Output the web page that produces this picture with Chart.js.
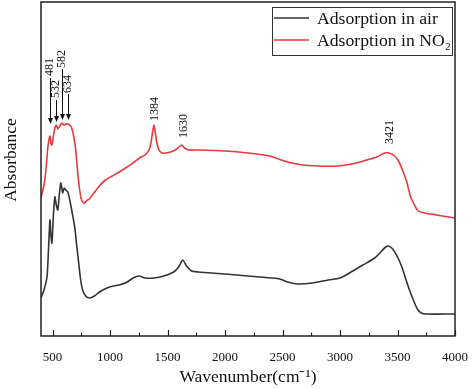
<!DOCTYPE html>
<html>
<head>
<meta charset="utf-8">
<script src="https://cdn.jsdelivr.net/npm/chart.js@4/dist/chart.umd.min.js"></script>
<style>
html,body{margin:0;padding:0;background:#fff;}
#wrap{width:474px;height:389px;position:relative;}
</style>
</head>
<body>
<div id="wrap"><canvas id="c" width="474" height="389"></canvas></div>
<script>
// ---- data ----
const airWavenumber = [400,426,452,465,478,486,495,508,521,533,546,559,572,581,589,602,615,633,650,667,693,710,727,745,762,788,822,865,908,994,1080,1149,1201,1253,1304,1382,1468,1554,1597,1632,1666,1709,1769,2002,2200,2407,2476,2544,2631,2760,2897,3001,3096,3199,3302,3354,3397,3423,3458,3500,3535,3569,3604,3638,3673,3707,3750,4000];
const airAbsorbance = [38,46,59,86,116,101,93,121,139,131,126,141,153,148,143,148,146,144,136,126,109,91,74,56,46,40,38,40,44,49,51,54,58,60,58,58,60,64,69,76,70,65,64,62,60,58,57,54,52,53,56,58,64,71,78,84,89,90,87,79,70,58,46,36,27,23,22,22];
const no2Wavenumber = [400,426,443,460,478,486,495,508,521,533,546,564,581,598,615,633,650,667,684,702,719,736,753,770,788,805,822,839,874,908,960,1020,1080,1149,1210,1270,1304,1339,1356,1373,1382,1390,1408,1425,1451,1485,1528,1580,1623,1649,1683,1769,2002,2200,2389,2441,2544,2674,2803,2975,3104,3233,3320,3388,3423,3466,3509,3543,3578,3612,3647,3681,3733,3836,4000];
const no2Absorbance = [138,151,166,189,200,193,191,200,208,211,207,210,213,211,212,212,211,208,200,186,164,146,136,133,134,136,137,140,145,150,156,160,164,169,174,179,181,186,193,206,211,206,193,186,183,183,184,187,191,188,186,186,185,183,180,178,174,171,170,170,172,176,179,183,183,181,175,166,155,140,131,125,123,121,118];
const seriesNames = ["Adsorption in air", "Adsorption in NO\u2082"];
const xTickValues = [500,1000,1500,2000,2500,3000,3500,4000];
const xMinorTickValues = [750,1250,1750,2250,2750,3250,3750];
// peak annotations: wavenumber, label centre, arrow top, arrow tip (absorbance units)
const arrowPeaks = [481,532,582,634];
const arrowLabelAt = [269,247,277,252];
const arrowTopAt = [258,236,267,242];
const arrowTipAt = [212,214,216,216];
const textPeaks = [1384,1630,3421];
const textLabelAt = [227,210,204];

const SERIF = '"Liberation Serif","Times New Roman",serif';
const AIR_COLOR = '#333333';
const NO2_COLOR = '#e8393c';

function pts(xs, ys){ return xs.map((x,i)=>({x:x,y:ys[i]})); }

const overlay = {
  id:'overlay',
  afterDraw(chart){
    const ctx = chart.ctx, a = chart.chartArea;
    const xs = chart.scales.x, ys = chart.scales.y;
    ctx.save();
    // frame
    ctx.strokeStyle = '#222'; ctx.lineWidth = 1.5;
    ctx.strokeRect(a.left, a.top, a.right-a.left, a.bottom-a.top);
    // inward ticks
    ctx.lineWidth = 1.2;
    ctx.beginPath();
    xTickValues.forEach(v=>{ const p = Math.round(xs.getPixelForValue(v))+0.5; ctx.moveTo(p,a.bottom); ctx.lineTo(p,a.bottom-6); });
    xMinorTickValues.forEach(v=>{ const p = Math.round(xs.getPixelForValue(v))+0.5; ctx.moveTo(p,a.bottom); ctx.lineTo(p,a.bottom-3.5); });
    ctx.stroke();
    // y title
    ctx.fillStyle = '#111';
    ctx.font = '17.5px '+SERIF;
    ctx.textAlign = 'center'; ctx.textBaseline = 'middle';
    ctx.save(); ctx.translate(11,160); ctx.rotate(-Math.PI/2); ctx.fillText('Absorbance',0,0); ctx.restore();
    // peak arrows
    ctx.font = '12px '+SERIF;
    ctx.strokeStyle = '#111'; ctx.fillStyle = '#111'; ctx.lineWidth = 1;
    arrowPeaks.forEach((w,i)=>{
      const px = Math.round(xs.getPixelForValue(w))+0.5;
      const yTop = ys.getPixelForValue(arrowTopAt[i]);
      const yTip = ys.getPixelForValue(arrowTipAt[i]);
      ctx.beginPath(); ctx.moveTo(px,yTop); ctx.lineTo(px,yTip-5); ctx.stroke();
      ctx.beginPath(); ctx.moveTo(px-2.5,yTip-6); ctx.lineTo(px+2.5,yTip-6); ctx.lineTo(px,yTip); ctx.closePath(); ctx.fill();
      ctx.save(); ctx.translate(px-1, ys.getPixelForValue(arrowLabelAt[i])); ctx.rotate(-Math.PI/2);
      ctx.fillText(String(w),0,0); ctx.restore();
    });
    textPeaks.forEach((w,i)=>{
      const px = xs.getPixelForValue(w);
      ctx.save(); ctx.translate(px+1, ys.getPixelForValue(textLabelAt[i])); ctx.rotate(-Math.PI/2);
      ctx.fillText(String(w),0,0); ctx.restore();
    });
    // legend box
    const lx=272, ly=7, lw=180, lh=48;
    ctx.fillStyle='#fff'; ctx.fillRect(lx,ly,lw,lh);
    ctx.strokeStyle='#333'; ctx.lineWidth=1; ctx.strokeRect(lx+0.5,ly+0.5,lw,lh);
    const colors=[AIR_COLOR,NO2_COLOR]; const rows=[18,40];
    ctx.font='17.7px '+SERIF; ctx.textAlign='left'; ctx.textBaseline='middle';
    seriesNames.forEach((n,i)=>{
      ctx.strokeStyle=colors[i]; ctx.lineWidth=1.5;
      ctx.beginPath(); ctx.moveTo(274,rows[i]); ctx.lineTo(309,rows[i]); ctx.stroke();
      ctx.fillStyle='#111'; ctx.fillText(n,317,rows[i]+1);
    });
    ctx.restore();
  }
};

new Chart(document.getElementById('c'), {
  type:'line',
  data:{ datasets:[
    {label:seriesNames[0], data:pts(airWavenumber,airAbsorbance), borderColor:AIR_COLOR, borderWidth:1.6, pointRadius:0, tension:0.25, fill:false},
    {label:seriesNames[1], data:pts(no2Wavenumber,no2Absorbance), borderColor:NO2_COLOR, borderWidth:1.6, pointRadius:0, tension:0.25, fill:false}
  ]},
  options:{
    responsive:false, animation:false, devicePixelRatio:1,
    layout:{padding:{left:0,right:15,top:2,bottom:0}},
    plugins:{legend:{display:false}, tooltip:{enabled:false}},
    scales:{
      x:{type:'linear', min:400, max:4000,
        afterBuildTicks(s){ s.ticks = xTickValues.map(v=>({value:v})); },
        afterFit(s){ s.height = 53; },
        grid:{display:false}, border:{display:false},
        ticks:{color:'#111', font:{family:SERIF,size:13}, padding:6, maxRotation:0, autoSkip:false,
          callback:(v)=>String(v)},
        title:{display:true, text:'Wavenumber(cm\u207B\u00B9)', color:'#111', font:{family:SERIF,size:17.5}, padding:{top:0,bottom:1}}
      },
      y:{type:'linear', min:0, max:334,
        afterFit(s){ s.width = 41; },
        grid:{display:false}, border:{display:false},
        ticks:{display:false}
      }
    }
  },
  plugins:[overlay]
});
</script>
</body>
</html>
